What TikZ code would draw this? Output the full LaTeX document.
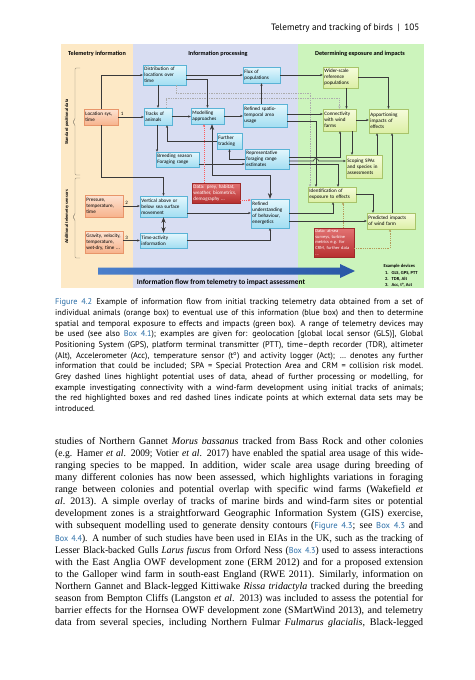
\documentclass[tikz,border=0pt]{standalone}
\usepackage{fontspec}
\setmainfont{Liberation Serif}
\newfontfamily\figfont{Carlito}
\newfontfamily\capfont{PT Sans}
\usetikzlibrary{arrows.meta,shadows}
\definecolor{panelor}{HTML}{FDE9C6}
\definecolor{panelbl}{HTML}{D8DDF2}
\definecolor{panelgr}{HTML}{CCF4BC}
\definecolor{ortop}{HTML}{FDE3D2}
\definecolor{orbot}{HTML}{F7B38C}
\definecolor{orbord}{HTML}{E8956A}
\definecolor{bltop}{HTML}{E4F7FD}
\definecolor{blbot}{HTML}{A3DEF2}
\definecolor{blbord}{HTML}{5AB3D6}
\definecolor{grtop}{HTML}{F6FCDC}
\definecolor{grbot}{HTML}{DCEFA6}
\definecolor{grbord}{HTML}{A8C46A}
\definecolor{rdtop}{HTML}{E37373}
\definecolor{rdbot}{HTML}{B73030}
\definecolor{rdbord}{HTML}{9E2A2A}
\definecolor{linegray}{HTML}{3A3A3A}
\definecolor{olivetan}{HTML}{B49A5A}
\definecolor{bracecol}{HTML}{8A8270}
\definecolor{arrowl}{HTML}{4B7FCB}
\definecolor{arrowr}{HTML}{2A58A6}
\definecolor{figblue}{HTML}{2B6EA8}

\newlength\bodyw \setlength\bodyw{368pt}
\newsavebox\linebox
\newcommand\fitline[1]{\sbox\linebox{#1}%
  \ifdim\wd\linebox>\bodyw
    \noindent\resizebox{\bodyw}{\ht\linebox}{\usebox\linebox}\par
  \else
    \noindent\hbox to \bodyw{\spaceskip=\fontdimen2\font plus 1fil\relax #1}\par
  \fi}
\newcommand\bref[1]{{\capfont\fontsize{8.6}{10}\selectfont\color{figblue}#1}}

\tikzset{
  box/.style={draw, line width=0.4pt, inner xsep=1.2pt, inner ysep=1pt, align=left,
    font=\figfont\fontsize{5.1}{5.9}\selectfont,
    drop shadow={shadow xshift=0.6pt, shadow yshift=-0.6pt, opacity=0.3}},
  wh/.code 2 args={\pgfmathsetmacro\boxtw{#1-2.8}%
    \tikzset{minimum width=#1pt, minimum height=#2pt, text width=\boxtw pt}},
  orbox/.style={box, draw=orbord, top color=ortop, bottom color=orbot},
  blbox/.style={box, draw=blbord, top color=bltop, bottom color=blbot},
  grbox/.style={box, draw=grbord, top color=grtop, bottom color=grbot},
  rdbox/.style={box, draw=rdbord, top color=rdtop, bottom color=rdbot, text=white},
  flow/.style={draw=linegray, line width=0.6pt, -{Stealth[length=2.7pt,width=2.3pt]}},
  greydash/.style={flow, draw=gray!65, dash pattern=on 1.3pt off 1.1pt},
  reddash/.style={flow, draw=red!65, dash pattern=on 1pt off 1pt},
  olivedash/.style={flow, draw=olivetan, dash pattern=on 0.9pt off 0.9pt},
  num/.style={font=\figfont\fontsize{5}{5}\selectfont, inner sep=0.8pt},
  panelhead/.style={font=\figfont\bfseries\fontsize{6.2}{7}\selectfont},
  sidelab/.style={font=\figfont\bfseries\fontsize{4.5}{5}\selectfont, rotate=90},
  brace/.style={draw=bracecol, line width=0.4pt, rounded corners=1.2pt}
}

\begin{document}
\begin{tikzpicture}[x=1pt,y=-1pt,>=Stealth]
  \useasboundingbox (0,0) rectangle (474,680);
  \fill[white] (0,0) rectangle (474,680);
  \node[anchor=base east, font=\capfont\fontsize{9.2}{10}\selectfont] (runhead) at (423,30)
    {Telemetry and tracking of birds\enspace|\enspace 105};

  % three panels
  \foreach \xa/\xb/\c in {61/133/panelor,133/298/panelbl,298/424/panelgr}
    \fill[\c] (\xa,44) rectangle (\xb,288);
  \node[panelhead] (headtel) at (97,54) {Telemetry information};
  \node[panelhead] (headproc) at (218,54) {Information processing};
  \node[panelhead] (headexp) at (360,54) {Determining exposure and impacts};

  \draw[brace] (80,68) -- (75,68) -- (75,119.5) -- (72.5,122) -- (75,124.5) -- (75,175) -- (80,175);
  \draw[brace] (80,178) -- (75,178) -- (75,214.5) -- (72.5,217) -- (75,219.5) -- (75,258) -- (80,258);
  \node[sidelab] (stdlab) at (67,122) {Standard positional data};
  \node[sidelab] (addlab) at (67,217) {Additional telemetry sensors};

  % telemetry boxes
  \node[orbox, wh={34}{16}] (loc) at (101,117) {Location sys,\\time};
  \node[orbox, wh={38}{22}] (press) at (104,206) {Pressure,\\temperature,\\time};
  \node[orbox, wh={38}{22}] (grav) at (104,242) {Gravity, velocity,\\temperature,\\wet-dry, time ...};

  % processing boxes
  \node[blbox, wh={43}{20}] (distr) at (164.5,75) {Distribution of\\locations over\\time};
  \node[blbox, wh={37}{16}] (flux) at (261.5,75) {Flux of\\populations};
  \node[blbox, wh={28}{17}] (tracks) at (158,116.5) {Tracks of\\animals};
  \node[blbox, wh={33}{16}] (model) at (207.5,116) {Modelling\\approaches};
  \node[blbox, wh={44}{23}] (rspat) at (265,115.5) {Refined spatio-\\temporal area\\usage};
  \node[blbox, wh={25}{16}] (further) at (229.5,141) {Further\\tracking};
  \node[blbox, wh={43}{15}] (breed) at (177.5,159.5) {Breeding season\\Foraging range};
  \node[blbox, wh={44}{20}] (repr) at (267,159) {Representative\\foraging range\\estimates};
  \node[rdbox, wh={48}{20}] (dataA) at (216,193) {Data: prey, habitat,\\weather, biometrics,\\demography ...};
  \node[blbox, wh={47}{21}] (vert) at (163.5,206.5) {Vertical above or\\below sea surface\\movement};
  \node[blbox, wh={47}{15}] (timeact) at (163.5,240.5) {Time-activity\\information};
  \node[blbox, wh={38}{29}] (runder) at (270,213.5) {Refined\\understanding\\of behaviour,\\energetics};

  % exposure boxes
  \node[grbox, wh={35}{21}] (wider) at (340.5,77.5) {Wider-scale\\reference\\populations};
  \node[grbox, wh={33}{22}] (conn) at (339.5,120) {Connectivity\\with wind\\farms};
  \node[grbox, wh={39}{24}] (appor) at (388.5,121) {Apportioning\\impacts of\\effects};
  \node[grbox, wh={36}{23}] (scop) at (364,166.5) {Scoping SPAs\\and species in\\assessments};
  \node[grbox, wh={48}{15}] (ident) at (332,194.5) {Identification of\\exposure to effects};
  \node[grbox, wh={48}{16}] (pred) at (391,221) {Predicted impacts\\of wind farm};
  \node[rdbox, wh={40}{29}, font=\figfont\fontsize{4.5}{5.8}\selectfont] (dataB) at (334,242.5)
    {Data: at-sea\\surveys, turbine\\metrics e.g. for\\CRM, further data ...};

  \coordinate (rowloc) at (0,177);
  \coordinate (rowmod) at (0,175);
  \coordinate (rowdashA) at (0,98);
  \coordinate (rowdashB) at (0,93);

  % grey dashed uses of raw data
  \draw[greydash] ([xshift=11.5pt]distr.south) -- ([xshift=11.5pt]distr.south |- rowdashB)
    -| ([xshift=-22pt]ident.north);
  \draw[greydash] ([xshift=8pt]tracks.north) -- ([xshift=8pt]tracks.north |- rowdashA) -| (conn.north);

  % telemetry to processing
  \draw[flow] (loc.east) -- node[num, above, pos=0.15] {1} (loc.east -| tracks.west);
  \draw[flow] (loc.north) |- (distr.west);
  \draw[flow] (loc.south) -- (loc.south |- rowloc) -| (vert.north);
  \draw[flow] (press.east) -- node[num, above, pos=0.2] {2} (press.east -| vert.west);
  \draw[flow] ([yshift=1.5pt]grav.east) -- node[num, above, pos=0.2] {3} ([yshift=1.5pt]grav.east -| timeact.west);

  % processing
  \draw[flow] (distr.east) -- (flux.west);
  \draw[flow] ([yshift=-4pt]distr.east) -| (model.north);
  \draw[flow] (distr.south -| tracks.north) -- (tracks.north);
  \draw[flow] (tracks.east) -- (tracks.east -| model.west);
  \draw[flow] (model.east) -- (model.east -| rspat.west);
  \draw[flow] (rspat.north -| flux.south) -- (flux.south);
  \draw[flow] ([xshift=-1pt]tracks.south) -- ([xshift=-1pt]tracks.south |- breed.north);
  \draw[flow] (further.west) -| ([xshift=9pt]tracks.south);
  \draw[flow] (repr.west) -| (further.south);
  \draw[flow] ([yshift=-4.5pt]breed.east) -- ([yshift=-4.5pt]breed.east -| repr.west);
  \draw[flow, <->] ([xshift=4.5pt]model.south) -- ([xshift=4.5pt]model.south |- rowmod) -| (runder.north);
  \draw[flow, <->] (vert.south) -- (timeact.north);
  \draw[flow] ([yshift=-6.5pt]vert.east) -- ([yshift=-6.5pt]vert.east -| runder.west);
  \draw[flow] (timeact.east) -| (runder.south);

  % processing to exposure
  \draw[flow] (flux.east) -- (flux.east -| wider.west);
  \draw[flow] ([xshift=7pt]conn.north |- wider.south) -- ([xshift=7pt]conn.north);
  \draw[flow] (wider.east) -| (appor.north);
  \draw[flow] ([yshift=1.5pt]rspat.east) -- ([yshift=1.5pt]rspat.east -| conn.west);
  \draw[flow] ([yshift=-5.5pt]rspat.east) -| ([xshift=-16pt]ident.north);
  \draw[flow] (conn.east) -- (conn.east -| appor.west);
  \draw[flow] ([xshift=12.5pt]conn.south) -- ([xshift=12.5pt]conn.south |- scop.north);
  \draw[flow] ([xshift=13pt]scop.north) -- ([xshift=13pt]scop.north |- appor.south);
  \draw[flow] ([xshift=1pt]pred.north) -- ([xshift=1pt]pred.north |- appor.south);
  \draw[flow] ([yshift=2pt]repr.east) -| ([xshift=0.5pt]conn.south);
  \draw[flow] ([yshift=-2pt]repr.east) -- (313.5,161) arc[start angle=180, end angle=0, radius=2.5pt]
    -- ([yshift=-2pt]repr.east -| scop.west);
  \draw[flow] ([yshift=-5pt]repr.east) -| ([xshift=6pt]ident.north);
  \draw[flow] (runder.east) -| ([xshift=1pt]ident.south);
  \draw[flow] (runder.east |- pred.west) -- (pred.west);
  \draw[flow] (ident.east) -| ([xshift=-18pt]pred.north);

  % external data
  \draw[reddash] ([xshift=-12pt]dataA.north) -- ([xshift=-12pt]dataA.north |- model.south);
  \draw[reddash] ([yshift=-7pt]dataA.east) -- ([yshift=-7pt]dataA.east -| runder.west);
  \draw[olivedash] ([xshift=9pt]dataB.north) -- ([xshift=9pt]dataB.north |- ident.south);
  \draw[olivedash] ([yshift=-5.5pt]dataB.east) -| ([xshift=-1pt]pred.south);

  \node[anchor=north west, align=left, font=\figfont\bfseries\fontsize{4.6}{6.3}\selectfont] (devices) at (380,261)
    {Example devices\\\hspace{1.5pt}1.\hspace{3pt}GLS, GPS, PTT\\\hspace{1.5pt}2.\hspace{3pt}TDR, Alt\\\hspace{1.5pt}3.\hspace{3pt}Acc, t°, Act};

  \shade[left color=arrowl, right color=arrowr] (98,267.5) -- (340,267.5) -- (340,264) -- (355,271)
    -- (340,278) -- (340,274.5) -- (98,274.5) -- cycle;
  \node[font=\figfont\bfseries\fontsize{7.4}{8}\selectfont] (flowtxt) at (221,282.5)
    {Information flow from telemetry to impact assessment};

  % caption and running text
  \node[anchor=north west, inner sep=0, text width=368pt] (caption) at (55,298.5)
    {\capfont\fontsize{8.3}{10.7}\selectfont
    \fitline{{\color{figblue}Figure 4.2}\enspace Example of information flow from initial tracking telemetry data obtained from a set of}
    \fitline{individual animals (orange box) to eventual use of this information (blue box) and then to determine}
    \fitline{spatial and temporal exposure to effects and impacts (green box). A range of telemetry devices may}
    \fitline{be used (see also {\color{figblue}Box 4.1}); examples are given for: geolocation [global local sensor (GLS)], Global}
    \fitline{Positioning System (GPS), platform terminal transmitter (PTT), time–depth recorder (TDR), altimeter}
    \fitline{(Alt), Accelerometer (Acc), temperature sensor (t\textsuperscript{o}) and activity logger (Act); … denotes any further}
    \fitline{information that could be included; SPA = Special Protection Area and CRM = collision risk model.}
    \fitline{Grey dashed lines highlight potential uses of data, ahead of further processing or modelling, for}
    \fitline{example investigating connectivity with a wind-farm development using initial tracks of animals;}
    \fitline{the red highlighted boxes and red dashed lines indicate points at which external data sets may be}
    \noindent introduced.\par};

  \node[anchor=north west, inner sep=0, text width=368pt] (bodytext) at (55,437)
    {\fontsize{10}{12.1}\selectfont
    \fitline{studies of Northern Gannet \textit{Morus bassanus} tracked from Bass Rock and other colonies}
    \fitline{(e.g. Hamer \textit{et al}. 2009; Votier \textit{et al}. 2017) have enabled the spatial area usage of this wide-}
    \fitline{ranging species to be mapped. In addition, wider scale area usage during breeding of}
    \fitline{many different colonies has now been assessed, which highlights variations in foraging}
    \fitline{range between colonies and potential overlap with specific wind farms (Wakefield \textit{et}}
    \fitline{\textit{al}. 2013). A simple overlay of tracks of marine birds and wind-farm sites or potential}
    \fitline{development zones is a straightforward Geographic Information System (GIS) exercise,}
    \fitline{with subsequent modelling used to generate density contours (\bref{Figure 4.3}; see \bref{Box 4.3} and}
    \fitline{\bref{Box 4.4}). A number of such studies have been used in EIAs in the UK, such as the tracking of}
    \fitline{Lesser Black-backed Gulls \textit{Larus fuscus} from Orford Ness (\bref{Box 4.3}) used to assess interactions}
    \fitline{with the East Anglia OWF development zone (ERM 2012) and for a proposed extension}
    \fitline{to the Galloper wind farm in south-east England (RWE 2011). Similarly, information on}
    \fitline{Northern Gannet and Black-legged Kittiwake \textit{Rissa tridactyla} tracked during the breeding}
    \fitline{season from Bempton Cliffs (Langston \textit{et al}. 2013) was included to assess the potential for}
    \fitline{barrier effects for the Hornsea OWF development zone (SMartWind 2013), and telemetry}
    \fitline{data from several species, including Northern Fulmar \textit{Fulmarus glacialis}, Black-legged}};
\end{tikzpicture}
\end{document}
